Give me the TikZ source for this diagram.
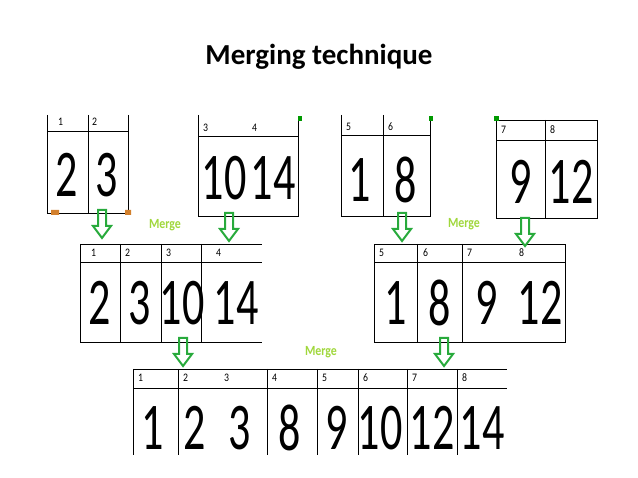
\documentclass[tikz,border=0pt]{standalone}
\usepackage{fontspec}
\setmainfont{Carlito}
\begin{document}
\begin{tikzpicture}[x=1pt,y=-1pt,
  ln/.style={line width=0.8pt,black},
  big/.style={font=\fontsize{58}{58}\selectfont,yscale=1.15,xscale=0.76},
  hdr/.style={font=\fontsize{11.5}{11.5}\selectfont,anchor=west,xscale=0.85},
  mrg/.style={font=\bfseries\fontsize{14}{14}\selectfont,text={rgb,255:red,160;green,215;blue,60},xscale=0.85},
  garrow/.style={draw={rgb,255:red,40;green,170;blue,60},line width=2pt,line join=miter}]
\useasboundingbox (0,0) rectangle (638,478);
\node[font=\bfseries\fontsize{29}{29}\selectfont] (title) at (319,57) {Merging technique};
\newcommand\garr[2]{\draw[garrow] (#1-4,#2) -- (#1+4,#2) -- (#1+4,#2+16) -- (#1+9,#2+16) -- (#1,#2+28) -- (#1-9,#2+16) -- (#1-4,#2+16) -- cycle;}
% box A
\draw[ln] (47,115) -- (47,213) (88,115) -- (88,213) (128,115) -- (128,213) (47,131) -- (128,131) (47,213) -- (128,213);
\fill[brown!70!orange] (51,210) rectangle (59,215) (125,210) rectangle (131,215);
\node[hdr] (a1) at (55,122) {1}; \node[hdr] (a2) at (89,122) {2};
\node[big] (a3) at (67,175) {2}; \node[big] (a4) at (107,175) {3};
% box B
\draw[ln] (198,115) -- (198,216) -- (298,216) -- (298,118) (198,136) -- (298,136);
\fill[green!60!black] (298,116) rectangle (302,121);
\node[hdr] (b1) at (200,128) {3}; \node[hdr] (b2) at (249,128) {4};
\node[big] (b3) at (224,178) {10}; \node[big] (b4) at (273,178) {14};
% box C
\draw[ln] (341,115) -- (341,216) -- (430,216) -- (430,118) (383,115) -- (383,216) (341,135) -- (430,135);
\fill[green!60!black] (429,116) rectangle (433,121);
\node[hdr] (c1) at (343,127) {5}; \node[hdr] (c2) at (385,127) {6};
\node[big] (c3) at (360,180) {1}; \node[big] (c4) at (406,180) {8};
% box D
\draw[ln] (496,120) rectangle (597,218) (545,120) -- (545,218) (496,140) -- (597,140);
\fill[green!60!black] (494,116) rectangle (499,121);
\node[hdr] (d1) at (498,130) {7}; \node[hdr] (d2) at (547,130) {8};
\node[big] (d3) at (521,182) {9}; \node[big] (d4) at (571,182) {12};
% merged L
\draw[ln] (80,244) -- (262,244) (80,262) -- (262,262) (80,342) -- (262,342);
\foreach \x in {80,120,161,201} \draw[ln] (\x,244) -- (\x,342);
\foreach \x/\t in {88/1,122/2,163/3,213/4} \node[hdr] at (\x,253) {\t};
\foreach \x/\t in {100/2,140/3,182/10,236/14} \node[big] at (\x,303) {\t};
% merged R
\draw[ln] (374,244) rectangle (565,342) (374,262) -- (565,262);
\foreach \x in {417,462} \draw[ln] (\x,244) -- (\x,342);
\foreach \x/\t in {376/5,420/6,464/7,516/8} \node[hdr] at (\x,253) {\t};
\foreach \x/\t in {396/1,440/8,487/9,540/12} \node[big] at (\x,303) {\t};
% bottom
\draw[ln] (133,369) -- (507,369) (133,388) -- (507,388);
\foreach \x in {133,178,267,317,358,407,457} \draw[ln] (\x,369) -- (\x,455);
\foreach \x/\t in {135/1,180/2,221/3,269/4,319/5,360/6,409/7,459/8} \node[hdr] at (\x,378) {\t};
\foreach \x/\t in {153/1,195/2,240/3,290/8,337/9,380/10,432/12,482/14} \node[big] at (\x,428) {\t};
% arrows
\garr{102}{210} \garr{229}{213} \garr{402}{213} \garr{525}{218} \garr{183}{338} \garr{444}{338}
\node[mrg] (m1) at (165,225) {Merge};
\node[mrg] (m2) at (464,224) {Merge};
\node[mrg] (m3) at (321,352) {Merge};
\end{tikzpicture}
\end{document}
